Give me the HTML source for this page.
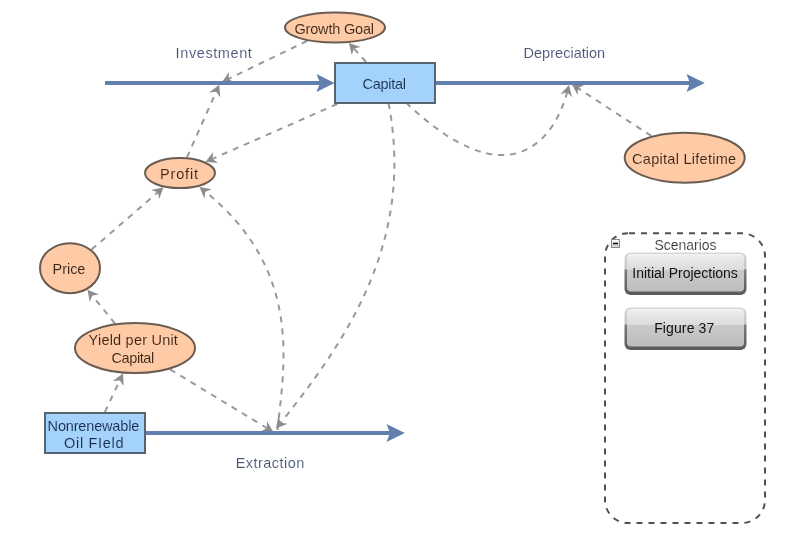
<!DOCTYPE html>
<html><head><meta charset="utf-8">
<style>
html,body{margin:0;padding:0;background:#fff;width:800px;height:541px;overflow:hidden}
svg{display:block}
text{font-family:"Liberation Sans",sans-serif}
</style></head>
<body>
<svg width="800" height="541" viewBox="0 0 800 541">
<defs>
<linearGradient id="btn" x1="0" y1="0" x2="0" y2="1">
<stop offset="0" stop-color="#f4f4f4"/>
<stop offset="0.12" stop-color="#e8e8e8"/>
<stop offset="0.42" stop-color="#dcdcdc"/>
<stop offset="0.44" stop-color="#c9c9c9"/>
<stop offset="1" stop-color="#bdbdbd"/>
</linearGradient>
<linearGradient id="bord" x1="0" y1="0" x2="0" y2="1">
<stop offset="0" stop-color="#d6d6d6"/>
<stop offset="0.38" stop-color="#c8c8c8"/>
<stop offset="0.42" stop-color="#7a7a7a"/>
<stop offset="1" stop-color="#5a5a5a"/>
</linearGradient>
<linearGradient id="ico" x1="0" y1="0" x2="0" y2="1">
<stop offset="0" stop-color="#ffffff"/>
<stop offset="1" stop-color="#c8ccd0"/>
</linearGradient>
</defs>
<rect width="800" height="541" fill="#fff"/>

<!-- links -->
<g fill="none" stroke="#999999" stroke-width="2" stroke-dasharray="6 6">
<path d="M366.08,62.00 L352.89,47.35"/>
<path d="M307.20,40.91 L227.20,79.52"/>
<path d="M186.97,157.40 L216.75,90.31"/>
<path d="M337.22,104.00 L211.09,159.44"/>
<path d="M406,102.5 C508.65,200.6 554.7,140.5 567.50,90.81"/>
<path d="M651.30,135.94 L576.70,87.37"/>
<path d="M91.59,249.54 L159.00,191.25"/>
<path d="M115.02,323.53 L91.26,294.33"/>
<path d="M104.89,412.00 L120.43,379.02"/>
<path d="M170.08,369.37 L268.16,428.85"/>
<path d="M388.5,103 C413.9,235.1 353.5,332.8 279.78,423.84"/>
<path d="M277.5,430 C284.2,364.7 303.2,270.1 204.18,190.75"/>
</g>
<g fill="#8c8c8c">
<polygon points="348.87,42.90 360.69,47.05 353.89,48.47 351.78,55.09"/>
<polygon points="221.80,82.13 229.10,71.95 228.56,78.87 234.32,82.75"/>
<polygon points="219.19,84.83 220.21,97.32 216.15,91.68 209.24,92.45"/>
<polygon points="205.60,161.85 213.25,151.93 212.46,158.83 218.08,162.92"/>
<polygon points="569.00,85.00 572.07,97.15 567.13,92.26 560.45,94.16"/>
<polygon points="571.68,84.09 584.17,85.07 577.96,88.18 577.62,95.12"/>
<polygon points="163.54,187.33 159.14,199.06 157.87,192.23 151.30,189.99"/>
<polygon points="87.47,289.68 99.07,294.42 92.20,295.50 89.76,302.00"/>
<polygon points="122.99,373.59 123.73,386.10 119.79,380.38 112.87,380.98"/>
<polygon points="273.29,431.96 260.77,431.39 266.88,428.07 267.00,421.13"/>
<polygon points="276.00,428.50 278.26,416.18 280.72,422.67 287.59,423.73"/>
<polygon points="199.50,187.00 211.84,189.20 205.35,191.69 204.33,198.56"/>
</g>

<!-- flows -->
<g stroke="#6180ae" stroke-width="4" fill="none">
<line x1="105" y1="83" x2="320" y2="83"/>
<line x1="436" y1="83" x2="690" y2="83"/>
<line x1="146" y1="433" x2="390" y2="433"/>
</g>
<g fill="#6180ae">
<polygon points="334.5,83 316.5,74 320,83 316.5,92"/>
<polygon points="704.8,83 686.5,74 690,83 686.5,92"/>
<polygon points="404.8,433 386.5,424 390,433 386.5,442"/>
</g>

<!-- stocks -->
<g fill="#a3d3fa" stroke="#56646f" stroke-width="2">
<rect x="335" y="63" width="100" height="40"/>
<rect x="45" y="413" width="100" height="40"/>
</g>

<!-- variables -->
<g fill="#ffcaa6" stroke="#6a5c52" stroke-width="2">
<ellipse cx="335" cy="27.5" rx="50" ry="15"/>
<ellipse cx="180" cy="173.1" rx="35" ry="15"/>
<ellipse cx="70" cy="268.2" rx="30" ry="25"/>
<ellipse cx="135" cy="348.1" rx="60" ry="25"/>
<ellipse cx="684.7" cy="157.7" rx="60" ry="25"/>
</g>

<!-- labels -->
<g style="will-change:transform">
<g fill="#3a2618" font-size="14.5" stroke="#ffcaa6" stroke-width="0.1">
<text x="294.5" y="33.5" textLength="79.5" lengthAdjust="spacing">Growth Goal</text>
<text x="160" y="178.75" textLength="38" lengthAdjust="spacing">Profit</text>
<text x="52.6" y="273.8" textLength="32.8" lengthAdjust="spacing">Price</text>
<text x="88.6" y="345" textLength="89.3" lengthAdjust="spacing">Yield per Unit</text>
<text x="111.4" y="362.6" textLength="42.9" lengthAdjust="spacing">Capital</text>
<text x="632.1" y="164" textLength="104" lengthAdjust="spacing">Capital Lifetime</text>
</g>
<g fill="#1a2a4a" font-size="14.5" stroke="#a3d3fa" stroke-width="0.1">
<text x="362.6" y="89.3" textLength="43.3" lengthAdjust="spacing">Capital</text>
<text x="47.6" y="430.9" textLength="91.7" lengthAdjust="spacing">Nonrenewable</text>
<text x="64.1" y="447.5" textLength="59.4" lengthAdjust="spacing">Oil FIeld</text>
</g>
<g fill="#4a5678" font-size="14.5" stroke="#fff" stroke-width="0.1">
<text x="175.6" y="57.75" textLength="76.3" lengthAdjust="spacing">Investment</text>
<text x="523.5" y="57.5" textLength="81.7" lengthAdjust="spacing">Depreciation</text>
<text x="235.7" y="468" textLength="68.6" lengthAdjust="spacing">Extraction</text>
</g>

</g>
<!-- scenarios panel -->
<g style="will-change:transform">
<rect x="605" y="233.3" width="160" height="289.7" rx="23" ry="23" fill="none" stroke="#505050" stroke-width="2" stroke-dasharray="6 6" stroke-dashoffset="-1"/>
<rect x="611.5" y="239.5" width="8" height="8" fill="url(#ico)" stroke="#8a8a8a" stroke-width="1"/>
<line x1="613" y1="243.5" x2="618" y2="243.5" stroke="#111" stroke-width="1.6"/>
<text x="654.5" y="249.5" font-size="14" fill="#333" stroke="#fff" stroke-width="0.15" textLength="62" lengthAdjust="spacing">Scenarios</text>

<g>
<rect x="624.5" y="252.5" width="122" height="42.5" rx="6" ry="6" fill="url(#bord)"/>
<rect x="627" y="254" width="117" height="37.5" rx="4" ry="4" fill="url(#btn)"/>
<text x="632.3" y="278" font-size="14" fill="#111" textLength="105.5" lengthAdjust="spacing">Initial Projections</text>
<rect x="624.5" y="307.5" width="122" height="42.5" rx="6" ry="6" fill="url(#bord)"/>
<rect x="627" y="309" width="117" height="37.5" rx="4" ry="4" fill="url(#btn)"/>
<text x="654.2" y="332.8" font-size="14" fill="#111" textLength="60" lengthAdjust="spacing">Figure 37</text>
</g>
</g>
</svg>
</body></html>
